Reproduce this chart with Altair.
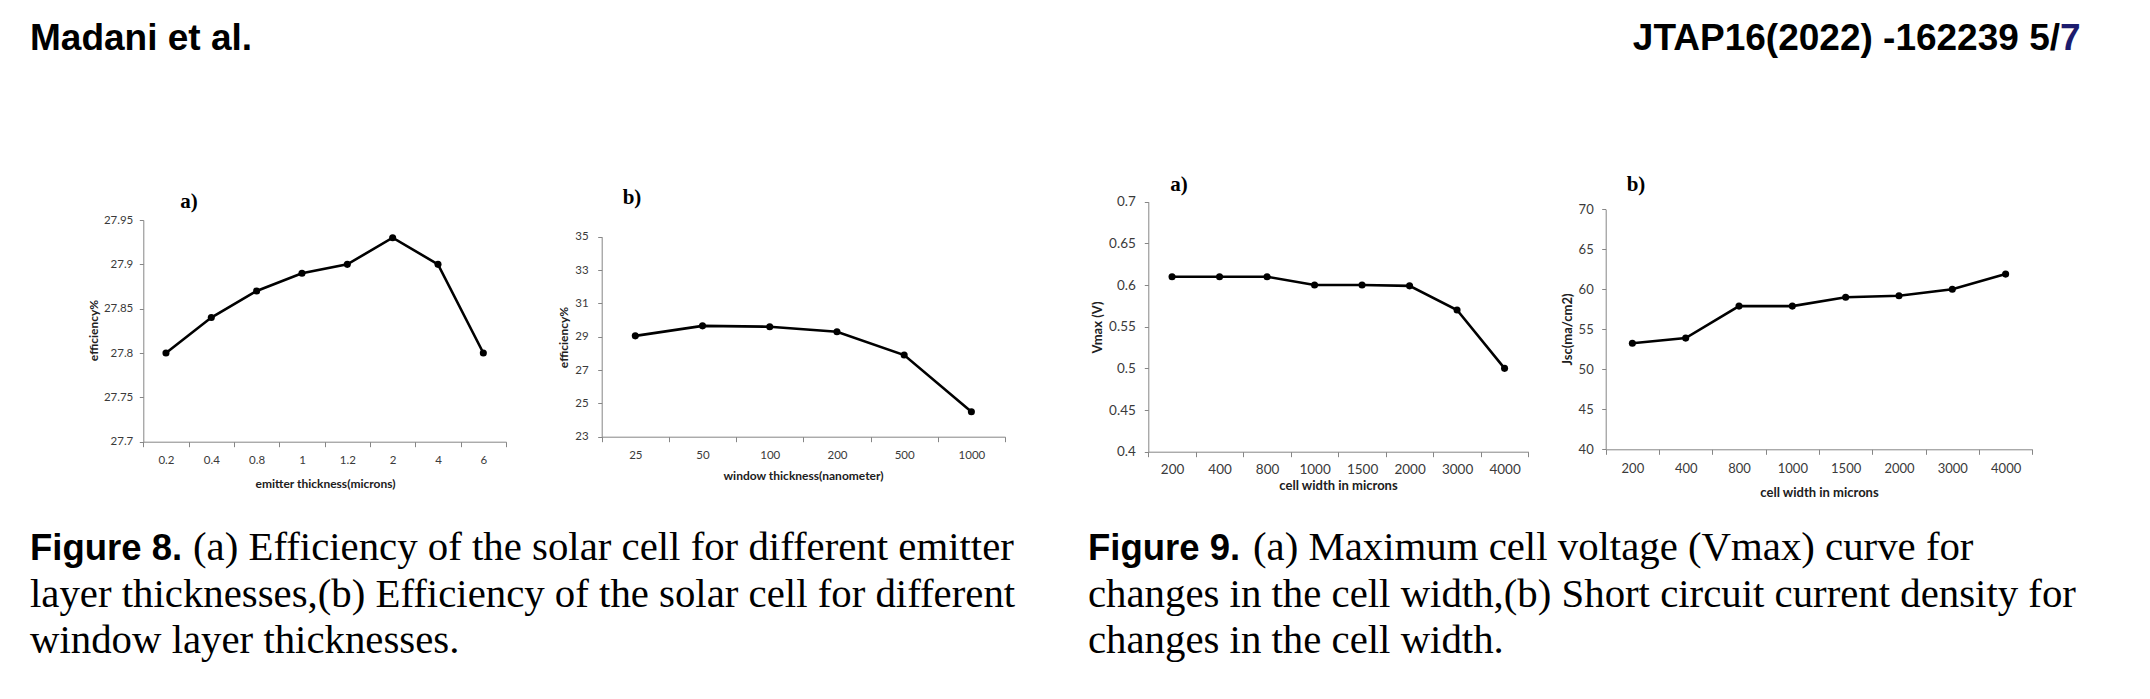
import altair as alt
import pandas as pd

W, H = 2150, 699

# ---------------- data ----------------
p1_cats = ["0.2", "0.4", "0.8", "1", "1.2", "2", "4", "6"]
p1_vals = [27.80, 27.84, 27.87, 27.89, 27.90, 27.93, 27.90, 27.80]
p1_ticks = [27.7, 27.75, 27.8, 27.85, 27.9, 27.95]

p2_cats = ["25", "50", "100", "200", "500", "1000"]
p2_vals = [29.05, 29.65, 29.6, 29.3, 27.9, 24.5]
p2_ticks = [23, 25, 27, 29, 31, 33, 35]

p3_cats = ["200", "400", "800", "1000", "1500", "2000", "3000", "4000"]
p3_vals = [0.61, 0.61, 0.61, 0.60, 0.60, 0.599, 0.57, 0.50]
p3_ticks = [0.4, 0.45, 0.5, 0.55, 0.6, 0.65, 0.7]

p4_cats = ["200", "400", "800", "1000", "1500", "2000", "3000", "4000"]
p4_vals = [53.25, 53.9, 57.9, 57.9, 59.0, 59.2, 60.0, 61.9]
p4_ticks = [40, 45, 50, 55, 60, 65, 70]

x_titles = ["emitter thickness(microns)", "window thickness(nanometer)",
            "cell width in microns", "cell width in microns"]
y_titles = ["efficiency%", "efficiency%", "Vmax (V)", "Jsc(ma/cm2)"]
panel_letters = ["a)", "b)", "a)", "b)"]

header_left = "Madani et al."
header_right = "JTAP16(2022) -162239 5/"
header_right_last = "7"

fig8_bold = "Figure 8."
fig8_lines = ["(a) Efficiency of the solar cell for different emitter",
              "layer thicknesses,(b) Efficiency of the solar cell for different",
              "window layer thicknesses."]
fig9_bold = "Figure 9."
fig9_lines = ["(a) Maximum cell voltage (Vmax) curve for",
              "changes in the cell width,(b) Short circuit current density for",
              "changes in the cell width."]

AX_COL = "#868686"
LAB_COL = "#3a3a3a"
TIT_COL = "#202020"


def panel(cats, vals, yticks, yfmt, xr, yr, xtitle, ytitle, xt, yt,
          lab_size, tit_size, xpad, ypad):
    df = pd.DataFrame({"x": cats, "y": vals})
    x0, x1 = xr
    ytop, ybot = yr
    xenc = alt.X(
        "x:N", sort=cats,
        scale=alt.Scale(type="band", range=[x0, x1], paddingInner=0, paddingOuter=0),
        axis=alt.Axis(orient="bottom", offset=ybot - H, title=xtitle,
                      tickBand="extent", labelAngle=0, tickSize=5, labelPadding=xpad,
                      domainColor=AX_COL, tickColor=AX_COL, labelColor=LAB_COL,
                      labelFont="Lato", labelFontSize=lab_size,
                      titleFont="Lato", titleFontSize=tit_size, titleFontWeight="bold",
                      titleColor=TIT_COL, titleX=xt[0], titleY=xt[1] - ybot,
                      titleAlign="center", titleBaseline="middle", grid=False),
    )
    yenc = alt.Y(
        "y:Q",
        scale=alt.Scale(domain=[yticks[0], yticks[-1]], range=[ybot, ytop], nice=False, zero=False),
        axis=alt.Axis(orient="left", offset=-x0, values=yticks, format=yfmt, title=ytitle,
                      tickSize=4, labelPadding=ypad, labelOverlap=False, labelFlush=False,
                      domainColor=AX_COL, tickColor=AX_COL, labelColor=LAB_COL,
                      labelFont="Lato", labelFontSize=lab_size,
                      titleFont="Lato", titleFontSize=tit_size, titleFontWeight="bold",
                      titleColor=TIT_COL, titleX=yt[0] - x0, titleY=yt[1], titleAngle=270,
                      titleAlign="center", titleBaseline="middle", grid=False),
    )
    base = alt.Chart(df).encode(x=xenc, y=yenc)
    line = base.mark_line(color="black", strokeWidth=2.6)
    pts = base.mark_point(filled=True, size=50, color="black", opacity=1)
    return alt.layer(line, pts)


def txt(s, x, y, size, font, weight="normal", align="left", color="#000000", baseline="alphabetic"):
    return alt.Chart(pd.DataFrame({"t": [s]})).mark_text(
        font=font, fontSize=size, fontWeight=weight, align=align, baseline=baseline, color=color
    ).encode(text="t:N", x=alt.value(x), y=alt.value(y))


panels = [
    panel(p1_cats, p1_vals, p1_ticks, ".2~f", (143.3, 506), (220, 441.7),
          x_titles[0], y_titles[0], (325, 483), (93, 330), 11.5, 12, 8, 6.5),
    panel(p2_cats, p2_vals, p2_ticks, "d", (601.7, 1005), (236.7, 436.7),
          x_titles[1], y_titles[1], (803, 475), (563, 337), 11.5, 12, 8, 9.5),
    panel(p3_cats, p3_vals, p3_ticks, ".2~f", (1148.3, 1528.3), (201.7, 451.7),
          x_titles[2], y_titles[2], (1338, 485), (1097, 327), 13.5, 13, 6, 9),
    panel(p4_cats, p4_vals, p4_ticks, "d", (1605.7, 2032.3), (209.3, 449.3),
          x_titles[3], y_titles[3], (1819, 492), (1567, 329), 13, 13, 8, 8.5),
]

letter_pos = [(189, 202), (632, 198), (1179, 185), (1636, 185)]
texts = []
for lab, (lx, ly) in zip(panel_letters, letter_pos):
    texts.append(txt(lab, lx, ly, 21, "Liberation Serif", "bold", "center", baseline="middle"))

texts.append(txt(header_left, 30, 50, 37, "Liberation Sans", "bold"))
texts.append(txt(header_right, 2060, 50, 37, "Liberation Sans", "bold", "right"))
texts.append(txt(header_right_last, 2060, 50, 37, "Liberation Sans", "bold", "left", "#1c1c6e"))

cap_base = [560, 606.5, 653]
texts.append(txt(fig8_bold, 30, cap_base[0], 36.5, "Liberation Sans", "bold"))
texts.append(txt(fig8_lines[0], 193, cap_base[0], 40.8, "Liberation Serif"))
texts.append(txt(fig8_lines[1], 30, cap_base[1], 40.8, "Liberation Serif"))
texts.append(txt(fig8_lines[2], 30, cap_base[2], 40.8, "Liberation Serif"))
texts.append(txt(fig9_bold, 1088, cap_base[0], 36.5, "Liberation Sans", "bold"))
texts.append(txt(fig9_lines[0], 1253, cap_base[0], 40.8, "Liberation Serif"))
texts.append(txt(fig9_lines[1], 1088, cap_base[1], 40.8, "Liberation Serif"))
texts.append(txt(fig9_lines[2], 1088, cap_base[2], 40.8, "Liberation Serif"))

chart = (
    alt.layer(*panels, *texts)
    .resolve_scale(x="independent", y="independent")
    .resolve_axis(x="independent", y="independent")
    .properties(width=W, height=H, padding=0, background="white",
                autosize=alt.AutoSizeParams(type="none"))
    .configure_view(stroke=None)
)

chart.save("out.html", embed_options={"renderer": "svg", "actions": False})
